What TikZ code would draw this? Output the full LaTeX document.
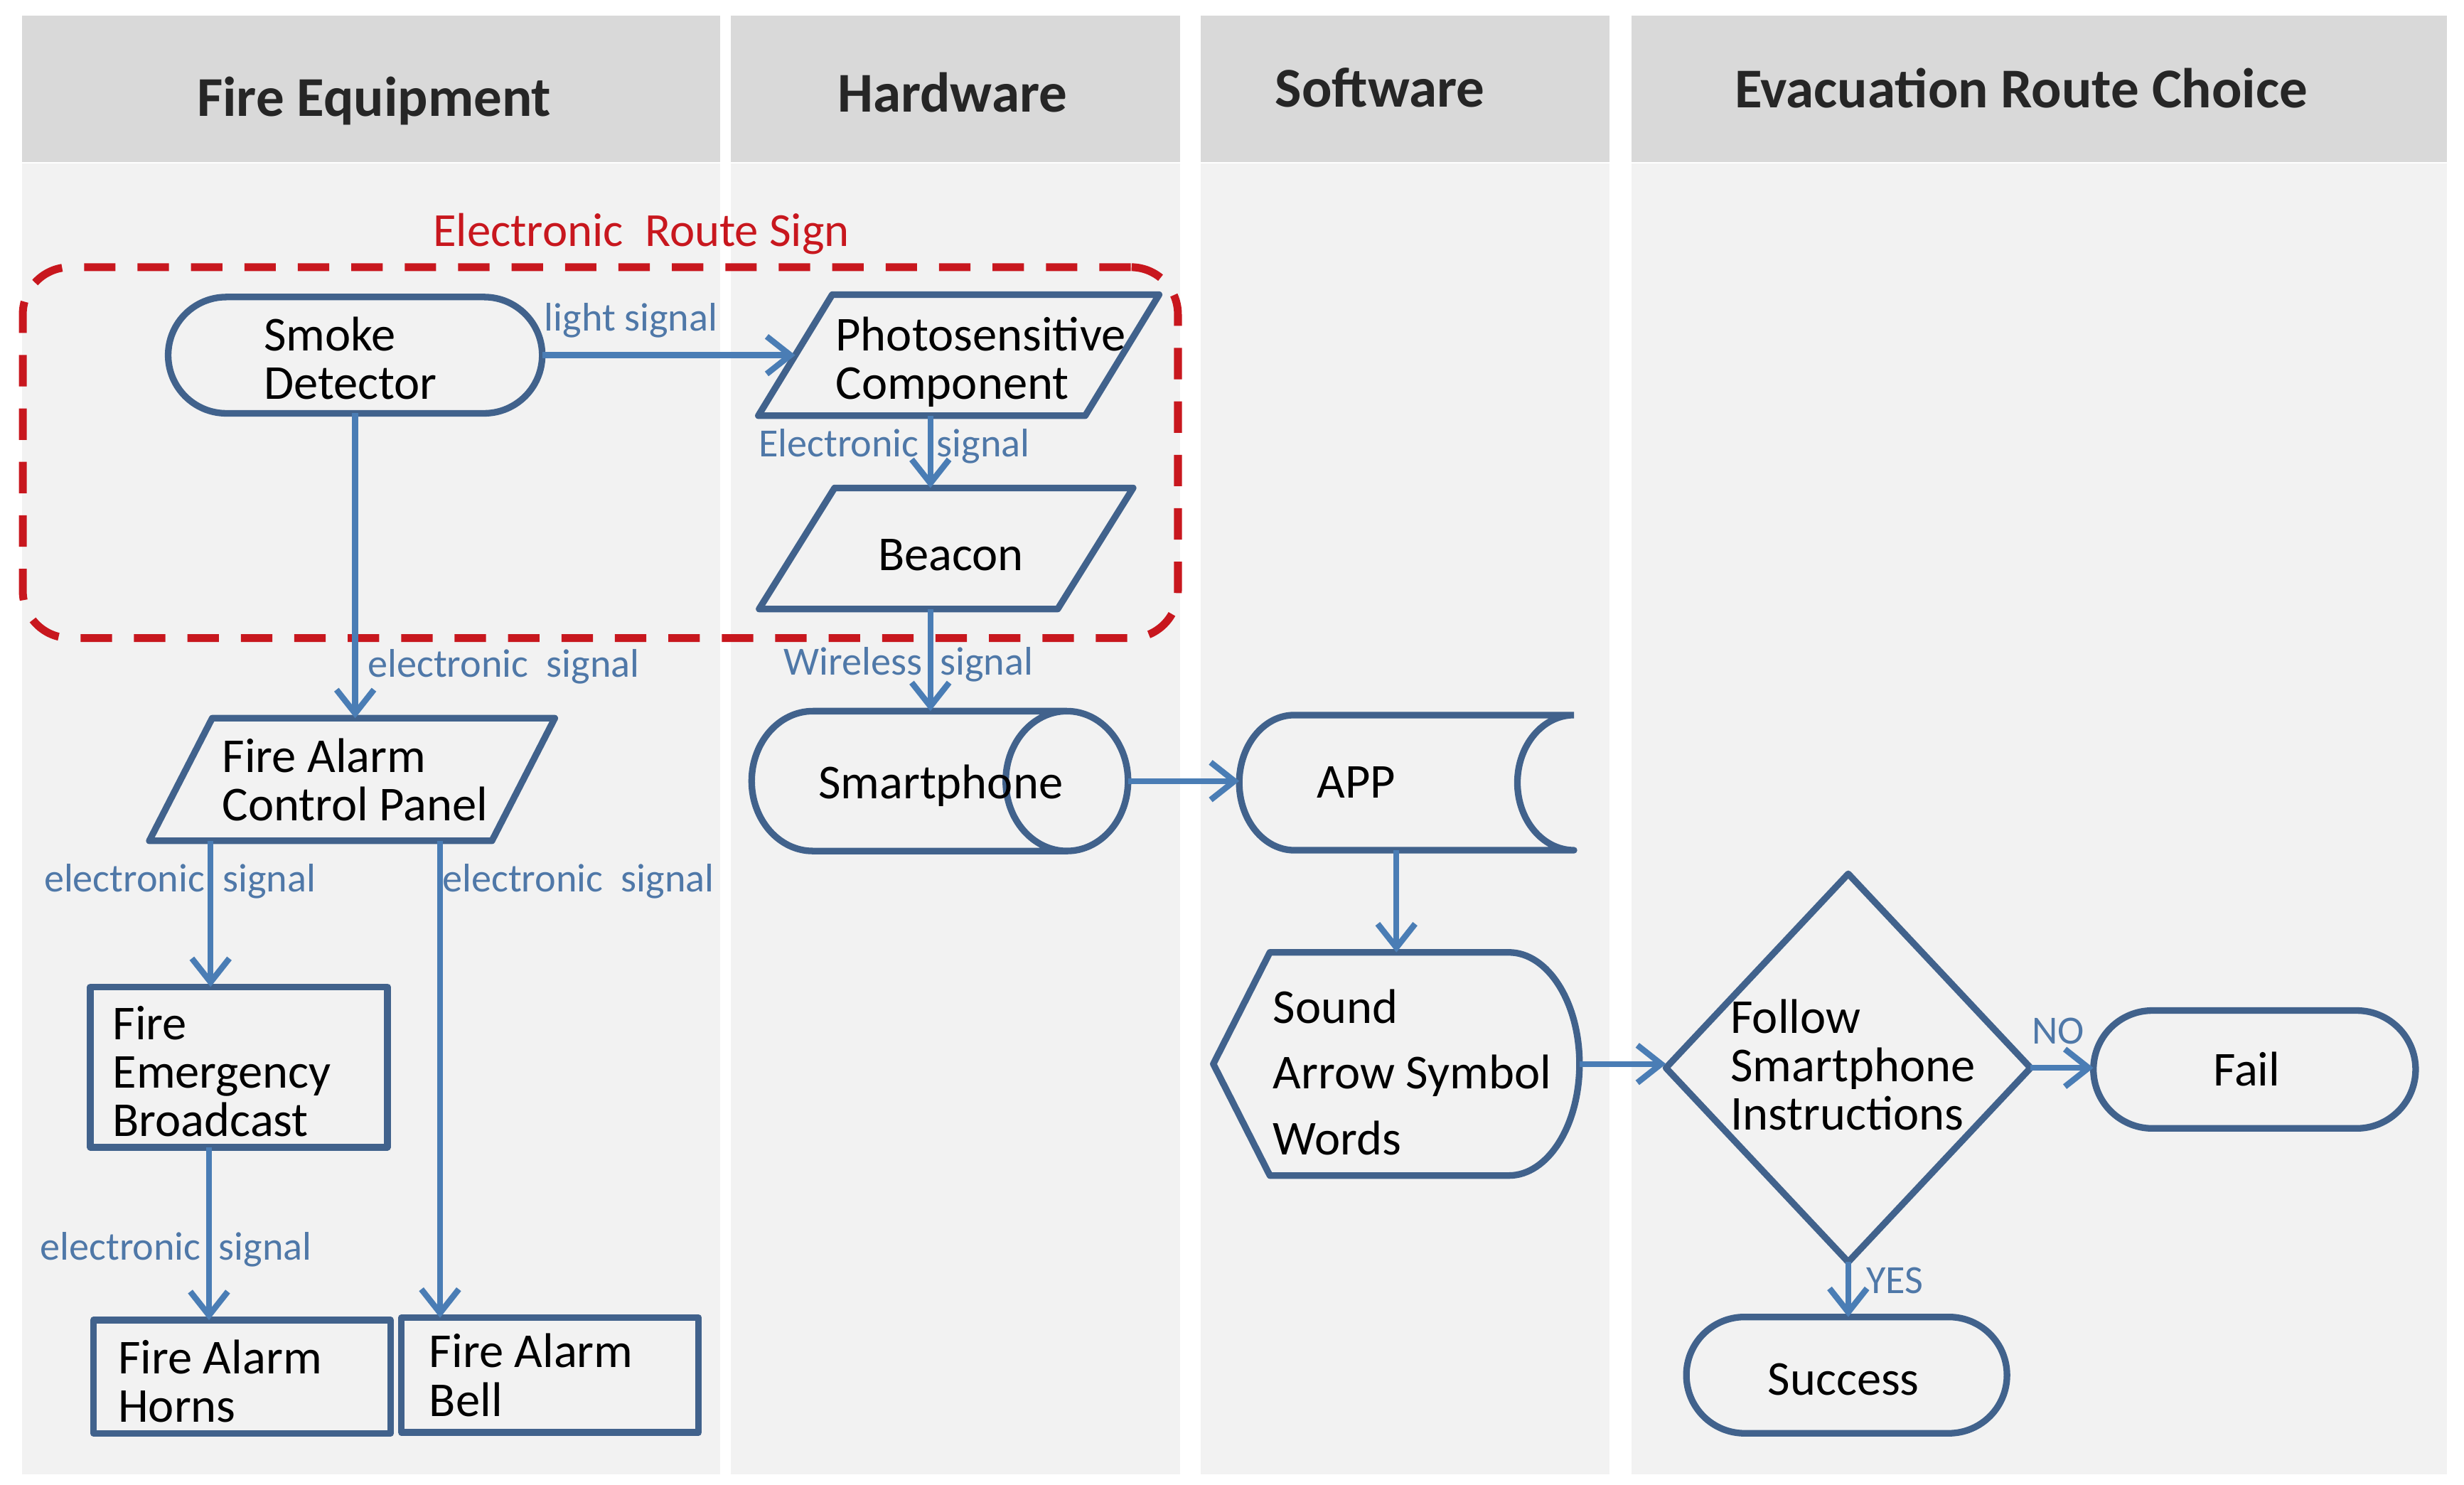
\documentclass[tikz,border=0pt]{standalone}
\usepackage{fontspec}
\setmainfont{Carlito}
\usepackage{tikz}
\usetikzlibrary{arrows.meta}
\usetikzlibrary{shapes.geometric}
\usetikzlibrary{shapes.misc}
\newlength{\pu}
\setlength{\pu}{0.022107cm}
\definecolor{headgray}{HTML}{D9D9D9}
\definecolor{bodygray}{HTML}{F2F2F2}
\definecolor{shapeblue}{HTML}{41628C}
\definecolor{arrowblue}{HTML}{4A7DB5}
\definecolor{labelblue}{HTML}{4F78A8}
\definecolor{signred}{HTML}{C8171E}

\begin{document}
\begin{tikzpicture}[x=\pu,y=-\pu,
	>={Straight Barb[length=9.5pt,width=15pt]},
	flow/.style={->,draw=arrowblue,line width=3.8\pu},
	outline/.style={draw=shapeblue,line width=4.2\pu,line join=round},
	main node/.style={outline,inner sep=0pt,outer sep=0pt,align=left,
		font=\fontsize{19.5}{19.4}\selectfont},
	stadium/.style={main node,rounded rectangle},
	box/.style={main node,rectangle},
	plain/.style={main node,draw=none},
	sig/.style={text=labelblue,font=\fontsize{16}{18}\selectfont,inner sep=0pt},
	head/.style={font=\bfseries\fontsize{22.5}{24}\selectfont,text=black!85,inner sep=0pt}]
	
	\useasboundingbox (0,0) rectangle (1567.8,944.5);
	
	% columns
	\foreach \xa/\xb in {14/458,465/751,764/1024,1038/1557} {
		\fill[headgray] (\xa,10) rectangle (\xb,103);
		\fill[bodygray] (\xa,104) rectangle (\xb,938);
	}
	\node[head] (h1) at (238,64) {Fire Equipment};
	\node[head] (h2) at (606,59) {Hardware};
	\node[head] (h3) at (878,56) {Software};
	\node[head] (h4) at (1286,56) {Evacuation Route Choice};
	
	% fire equipment
	\node[stadium,minimum width=238\pu,minimum height=74\pu] (smoke) at (226,226) {\rule{0pt}{16pt}Smoke\\Detector\hspace*{6\pu}};
	\node[plain,minimum width=218\pu,minimum height=78\pu] (panel) at (224,496) {\hspace*{4\pu}Fire Alarm\\\hspace*{4\pu}Control Panel};
	\node[box,minimum width=189\pu,minimum height=102\pu] (broadcast) at (152,679) {\rule{0pt}{17pt}Fire\\Emergency\\Broadcast\hspace*{36\pu}};
	\node[box,minimum width=189\pu,minimum height=72\pu] (horns) at (154,876) {\rule{0pt}{17pt}Fire Alarm\hspace*{28\pu}\\Horns};
	\node[box,minimum width=189\pu,minimum height=73\pu] (bell) at (350,875) {Fire Alarm\hspace*{24\pu}\\Bell};
	
	% hardware
	\node[plain,inner xsep=-12pt,minimum width=208\pu,minimum height=77\pu] (photo) at (610,226) {\hspace*{28\pu}\rule{0pt}{19pt}Photosensitive\\\hspace*{28\pu}Component};
	\node[plain,minimum width=190\pu,minimum height=77\pu] (beacon) at (602,349) {\hspace*{6\pu}\rule{0pt}{17.5pt}Beacon};
	\node[main node,cylinder,aspect=2.43,inner xsep=-38.5\pu,minimum width=89\pu] (phone) at (577.5,497) {\hspace*{42\pu}\rule{0pt}{17pt}Smartphone};
	
	% the three parallelograms: the side's middle stays at .west and .east
	\foreach \n/\d in {photo/47,beacon/48,panel/40} {
		\draw[outline] ([xshift=0.5*\d*\pu]\n.north west) -- ([xshift=0.5*\d*\pu]\n.north east)
			-- ([xshift=-0.5*\d*\pu]\n.south east) -- ([xshift=-0.5*\d*\pu]\n.south west) -- cycle;
	}
	
	% software
	\node[plain,minimum width=213\pu,minimum height=86\pu] (app) at (895,498) {APP\hspace*{64\pu}\rule[2pt]{0pt}{1pt}};
	\draw[outline] (app.north east) -- ++(-178,0)
		arc[start angle=90,end angle=270,x radius=35\pu,y radius=43\pu]
		-- (app.south east)
		arc[start angle=270,end angle=90,x radius=36\pu,y radius=43\pu];
	\node[plain,minimum width=233\pu,minimum height=142\pu] (sound) at (888.5,677) {\hspace*{20\pu}\rule{0pt}{20pt}Sound\\[6.9pt]\hspace*{20\pu}Arrow Symbol\\[6.9pt]\hspace*{20\pu}Words};
	\draw[outline] (sound.west) -- ++(36,-71) -- ++(152,0)
		arc[start angle=90,end angle=-90,x radius=45\pu,y radius=71\pu]
		-- ++(-152,0) -- cycle;
	
	% route choice
	\node[main node,diamond,aspect=0.94,inner sep=-8pt,minimum width=232\pu,minimum height=247\pu] (choice) at (1176,679.5) {\hspace*{6\pu}Follow\\\hspace*{6\pu}Smartphone\\\hspace*{6\pu}Instructions\rule[-2.5pt]{0pt}{1pt}};
	\node[stadium,minimum width=205\pu,minimum height=75\pu] (fail) at (1434.5,680.5) {Fail\hspace*{10\pu}};
	\node[stadium,minimum width=204\pu,minimum height=74\pu] (success) at (1175,875) {\rule{0pt}{16pt}Success\hspace*{4\pu}};
	
	% dashed frame and its title
	\node[draw=signred,line width=5\pu,dash pattern=on 20\pu off 14\pu,rounded corners=30\pu,
		minimum width=735\pu,minimum height=236\pu,inner sep=0pt] (sign) at (382,288) {};
	\node[text=signred,font=\fontsize{19}{20}\selectfont,inner sep=0pt] (signtitle) at (408,149) {Electronic\ \ Route Sign};
	
	\draw[flow] (smoke.east) -- (photo.west);
	\draw[flow] (smoke.south) -- (smoke.south |- panel.north);
	\draw[flow] ([xshift=-18\pu]photo.south) -- ([xshift=-10\pu]beacon.north);
	\draw[flow] ([xshift=-10\pu]beacon.south) -- ([xshift=-10\pu]beacon.south |- phone.north);
	\draw[flow] (phone.east) -- (phone.east -| app.west);
	\draw[flow] (app.south -| sound.north) -- (sound.north);
	\draw[flow] (sound.east) -- (sound.east -| choice.west);
	\draw[flow] (choice.east) -- (choice.east -| fail.west);
	\draw[flow] (choice.south) -- (choice.south |- success.north);
	\draw[flow] ([xshift=-90\pu]panel.south) -- ([xshift=-18\pu]broadcast.north);
	\draw[flow] ([xshift=56\pu]panel.south) -- ([xshift=-70\pu]bell.north);
	\draw[flow] ([xshift=-19\pu]broadcast.south) -- ([xshift=-21\pu]horns.north);
	
	\node[sig] (s1) at (401.5,204) {light signal};
	\node[sig] (s2) at (569,284) {Electronic\ \ signal};
	\node[sig] (s3) at (320.5,424) {electronic\ \ signal};
	\node[sig] (s4) at (578,423) {Wireless\ \ signal};
	\node[sig] (s5) at (114.5,561) {electronic\ \ signal};
	\node[sig] (s6) at (368,561) {electronic\ \ signal};
	\node[sig] (s7) at (112,795) {electronic\ \ signal};
	\node[sig] (s8) at (1309.5,656) {NO};
	\node[sig] (s9) at (1205.5,815) {YES};
	
\end{tikzpicture}
\end{document}
